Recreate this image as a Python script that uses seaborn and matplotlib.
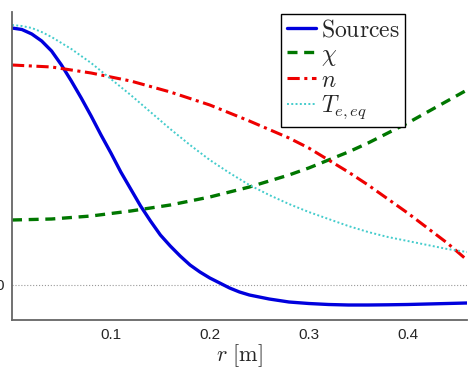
import numpy as np
import pandas as pd
import matplotlib
matplotlib.use("Agg")
import matplotlib.pyplot as plt
import seaborn as sns

# values (arbitrary units, 0 at the dotted line)
r_sources = [0, 0.01, 0.02, 0.03, 0.04, 0.05, 0.06, 0.07, 0.08, 0.09, 0.10, 0.11,
             0.12, 0.13, 0.14, 0.15, 0.16, 0.17, 0.18, 0.19, 0.20, 0.21, 0.22, 0.23,
             0.24, 0.26, 0.28, 0.30, 0.32, 0.34, 0.36, 0.38, 0.40, 0.42, 0.44, 0.46]
sources = [2.57, 2.555, 2.51, 2.44, 2.34, 2.20, 2.04, 1.87, 1.69, 1.50, 1.32, 1.13,
           0.96, 0.79, 0.64, 0.50, 0.39, 0.29, 0.20, 0.13, 0.07, 0.02, -0.03, -0.07,
           -0.10, -0.14, -0.17, -0.185, -0.195, -0.20, -0.20, -0.198, -0.195, -0.19, -0.185, -0.18]

r_chi = [0, 0.04, 0.08, 0.12, 0.16, 0.20, 0.24, 0.28, 0.30, 0.32, 0.34, 0.36,
         0.38, 0.40, 0.42, 0.44, 0.46]
chi = [0.65, 0.66, 0.69, 0.74, 0.80, 0.88, 0.98, 1.10, 1.17, 1.25, 1.33, 1.42,
       1.52, 1.62, 1.73, 1.84, 1.95]

r_n = [0, 0.04, 0.08, 0.12, 0.16, 0.20, 0.24, 0.28, 0.30, 0.32, 0.34, 0.36,
       0.38, 0.40, 0.42, 0.44, 0.46]
n = [2.20, 2.18, 2.12, 2.04, 1.93, 1.80, 1.64, 1.47, 1.37, 1.25, 1.13, 1.00,
     0.86, 0.72, 0.57, 0.42, 0.25]

r_te = [0, 0.01, 0.02, 0.03, 0.04, 0.05, 0.06, 0.07, 0.08, 0.09, 0.10, 0.12,
        0.14, 0.16, 0.18, 0.20, 0.22, 0.24, 0.26, 0.28, 0.30, 0.32, 0.34, 0.36,
        0.38, 0.40, 0.42, 0.44, 0.46]
te = [2.60, 2.59, 2.57, 2.53, 2.48, 2.42, 2.36, 2.29, 2.22, 2.14, 2.06, 1.90,
      1.73, 1.56, 1.40, 1.25, 1.12, 1.00, 0.90, 0.81, 0.73, 0.66, 0.59, 0.53,
      0.48, 0.44, 0.40, 0.36, 0.33]

labels = [r'$\mathrm{Sources}$', r'$\chi$', r'$n$', r'$T_{e,eq}$']
xticks = [0.1, 0.2, 0.3, 0.4]

sns.set_style("white")
plt.rcParams['font.family'] = ['Liberation Sans', 'DejaVu Sans']
plt.rcParams['mathtext.fontset'] = 'cm'

df = pd.concat([
    pd.DataFrame({'r': r_sources, 'v': sources, 'series': labels[0]}),
    pd.DataFrame({'r': r_chi, 'v': chi, 'series': labels[1]}),
    pd.DataFrame({'r': r_n, 'v': n, 'series': labels[2]}),
    pd.DataFrame({'r': r_te, 'v': te, 'series': labels[3]}),
])

fig = plt.figure(figsize=(4.74, 3.70), dpi=100)
ax = fig.add_axes([12 / 474, 1 - 320 / 370, 455 / 474, 308 / 370])

ax.axhline(0, color='#999999', lw=0.8, ls=':', zorder=0)

styles = {
    labels[0]: dict(color='#0000dd', lw=2.4, ls='-'),
    labels[1]: dict(color='#007700', lw=2.4, ls=(0, (3, 2))),
    labels[2]: dict(color='#ee0000', lw=2.2, ls=(0, (4, 1.5, 1, 1.5))),
    labels[3]: dict(color='#44cccc', lw=1.4, ls=(0, (1, 1.2))),
}
for lab in labels:
    sub = df[df['series'] == lab]
    sns.lineplot(data=sub, x='r', y='v', ax=ax, label=lab, sort=False,
                 estimator=None, **styles[lab])

ax.set_xlim(0, 0.46)
ax.set_ylim(-0.35, 2.73)
ax.set_xticks(xticks)
ax.set_xticklabels([str(t) for t in xticks], fontsize=11)
ax.set_yticks([0])
ax.set_yticklabels(['0'], fontsize=11)
ax.tick_params(axis='both', direction='in', length=4, color='#666666', pad=6)
ax.set_xlabel(r'$r\ [\mathrm{m}]$', fontsize=16, labelpad=0)
ax.set_ylabel('')

for side in ['top', 'right']:
    ax.spines[side].set_visible(False)
for side in ['left', 'bottom']:
    ax.spines[side].set_color('#666666')
    ax.spines[side].set_linewidth(1.3)

leg = ax.legend(loc='upper right', bbox_to_anchor=(0.864, 0.994), fontsize=17,
                frameon=True, fancybox=False, edgecolor='black', framealpha=1,
                handlelength=1.27, handletextpad=0.17, borderpad=0.25,
                labelspacing=0.08, borderaxespad=0)
leg.get_frame().set_linewidth(1.0)

fig.savefig('out.png', dpi=100)
